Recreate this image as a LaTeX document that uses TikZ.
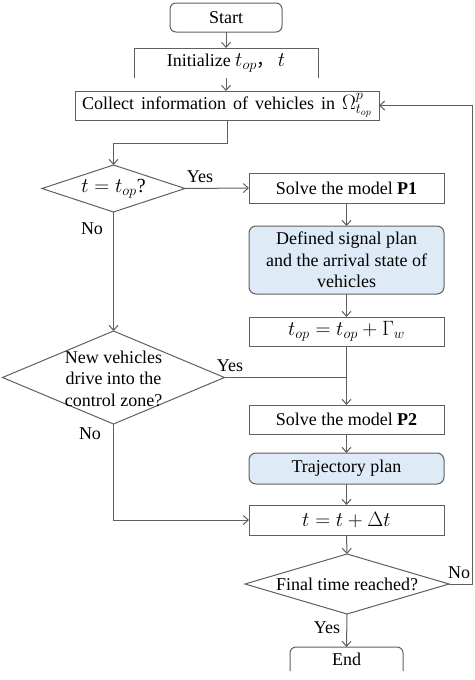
\documentclass[tikz,border=0pt]{standalone}
\usepackage{fontspec}
\setmainfont{Liberation Serif}
\newfontfamily\cjk{Noto Sans CJK SC}
\usetikzlibrary{shapes.geometric,arrows.meta}
\definecolor{lineg}{RGB}{95,95,95}
\definecolor{boxblue}{RGB}{222,234,246}
\tikzset{
  base/.style={draw=lineg, line width=1pt, inner sep=0pt, outer sep=0pt,
    font=\fontsize{18}{21.5}\selectfont, text=black},
  box/.style={base, rectangle, minimum width=195pt, minimum height=30pt},
  rbox/.style={box, rounded corners=7pt, fill=boxblue},
  dec/.style={base, diamond},
  lab/.style={font=\fontsize{18}{21.5}\selectfont, inner sep=0pt, text=black},
  mathbig/.style={font=\fontsize{20}{22}\selectfont},
  arr/.style={draw=lineg, line width=1pt, -{Straight Barb[length=5pt,width=9pt]}},
  ln/.style={draw=lineg, line width=1pt},
}
\begin{document}
\begin{tikzpicture}[x=1pt,y=-1pt]
\useasboundingbox (0,0) rectangle (474,680);
% boxes
\node[base, rounded corners=6pt, minimum width=112pt, minimum height=29pt] (start) at (226,17.5) {Start};
\draw[ln] (134,78) -- (134,48) -- (318,48) -- (318,78);
\node[lab] (init) at (226,63) {Initialize {\fontsize{19.5}{22}\selectfont$t_{op}$}{\cjk ，}\,{\fontsize{19.5}{22}\selectfont$t$}};
\coordinate (inittop) at (226,48);
\coordinate (initbot) at (226,78);
\node[base, minimum width=304pt, minimum height=29pt] (collect) at (227,105.5) {\spaceskip=7pt plus 1pt Collect information of vehicles in {\fontsize{19.5}{22}\selectfont$\Omega^{p}_{t_{op}}$}};
\node[box] (p1) at (346.5,188) {Solve the model \textbf{P1}};
\node[rbox, minimum height=68pt, align=center] (def) at (346.5,260) {Defined signal plan\\and the arrival state of\\vehicles};
\node[box, mathbig, minimum height=29pt] (top) at (346.5,331.5) {$t_{op} = t_{op} + \Gamma_{w}$};
\node[box, minimum height=29pt] (p2) at (346.5,419.5) {Solve the model \textbf{P2}};
\node[rbox, minimum height=31pt] (traj) at (346.5,468.5) {Trajectory plan};
\node[box, mathbig] (tt) at (346.5,520) {$t = t + \Delta t$};
% diamonds
\node[dec, minimum width=143pt, minimum height=47pt] (d1) at (113.5,188.5) {};
\node[lab, mathbig] (d1t) at (d1.center) {$t = t_{op}$?};
\node[dec, minimum width=222pt, minimum height=93pt] (d2) at (113.5,377.5) {};
\node[lab, align=center] (d2t) at (113.5,378.5) {New vehicles\\drive into the\\control zone?};
\node[dec, minimum width=204pt, minimum height=60pt] (d3) at (347,584) {};
\node[lab] (d3t) at (d3.center) {Final time reached?};
% end
\draw[ln, rounded corners=6pt] (290,671) -- (290,647) -- (403,647) -- (403,671);
\node[lab] (end) at (346.5,659) {End};
\coordinate (endtop) at (346.5,647);
% labels
\node[lab] (y1) at (200,177) {Yes};
\node[lab] (n1) at (92,229) {No};
\node[lab] (y2) at (230,366) {Yes};
\node[lab] (n2) at (90,434) {No};
\node[lab] (n3) at (459,573) {No};
\node[lab] (y3) at (327,628) {Yes};
% connectors
\draw[arr] (start.south) -- (inittop);
\draw[arr] (initbot) -- (initbot |- collect.north);
\draw[arr] (collect.south) -- ++(0,23) -| (d1.north);
\draw[arr] (d1.east) -- (p1.west);
\draw[arr] (p1.south) -- (def.north);
\draw[arr] (def.south) -- (top.north);
\coordinate (j) at (346.5,377.5);
\draw[ln] (top.south) -- (j);
\draw[ln] (d2.east) -- (j);
\draw[arr] (j) -- (p2.north);
\draw[arr] (d1.south) -- (d2.north);
\draw[arr] (p2.south) -- (traj.north);
\draw[arr] (traj.south) -- (tt.north);
\draw[arr] (d2.south) |- (tt.west);
\draw[arr] (tt.south) -- (d3.north);
\coordinate (rt) at (472.5,584);
\draw[arr] (d3.east) -- (rt) |- (collect.east);
\draw[arr] (d3.south) -- (endtop);
\end{tikzpicture}
\end{document}
